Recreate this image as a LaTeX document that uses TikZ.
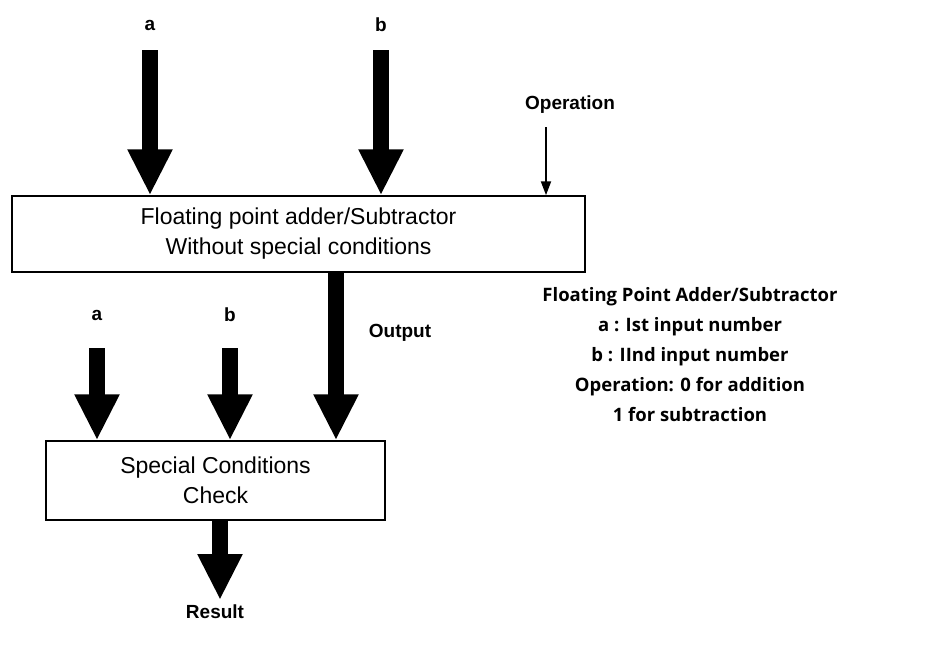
\documentclass[tikz,border=0pt]{standalone}
\usepackage{fontspec}
\setmainfont{Liberation Sans}
\newfontfamily\osans{Open Sans}
\usetikzlibrary{arrows.meta}
\begin{document}
\begin{tikzpicture}[x=1pt,y=-1pt,
  fat/.style={line width=16pt,-{Triangle[length=46pt,width=42pt]}},
  thin/.style={line width=2pt,-{Triangle[length=14pt,width=10pt]}},
  blk/.style={draw,line width=1.5pt,inner sep=0pt},
  lab/.style={font=\fontsize{19}{22}\selectfont\bfseries}]
\useasboundingbox[fill=white] (0,0) rectangle (933,645);
\node[blk,minimum width=573pt,minimum height=76pt,align=center,font=\fontsize{23}{30}\selectfont] (b1) at (298.5,234) {Floating point adder/Subtractor\\Without special conditions};
\node[blk,minimum width=339pt,minimum height=79pt,align=center,font=\fontsize{23}{30}\selectfont] (b2) at (215.5,480.5) {Special Conditions\\Check};
\node[lab] (la) at (150,25) {a};
\node[lab] (lb) at (381,25) {b};
\node[lab] (lop) at (570,105) {Operation};
\node[lab] (lo) at (400,333) {Output};
\node[lab] (la2) at (97,315) {a};
\node[lab] (lb2) at (230,315) {b};
\node[lab] (lr) at (215,612) {Result};
\coordinate (sa) at (150,50); \coordinate (sb) at (381,50); \coordinate (sop) at (546,127);
\coordinate (sa2) at (97,348); \coordinate (sb2) at (230,348);
\coordinate (so) at (336,300); \coordinate (sr) at (220,600);
\draw[fat] (sa) -- (sa|-b1.north);
\draw[fat] (sb) -- (sb|-b1.north);
\draw[thin] (sop) -- (sop|-b1.north);
\draw[fat] (so|-b1.south) -- (so|-b2.north);
\draw[fat] (sa2) -- (sa2|-b2.north);
\draw[fat] (sb2) -- (sb2|-b2.north);
\draw[fat] (sr|-b2.south) -- (sr);
\node[align=center,font=\osans\fontsize{18.5}{30}\selectfont\bfseries] (info) at (690,355) {Floating Point Adder/Subtractor\\a : Ist input number\\b : IInd input number\\Operation: 0 for addition\\1 for subtraction};
\end{tikzpicture}
\end{document}
